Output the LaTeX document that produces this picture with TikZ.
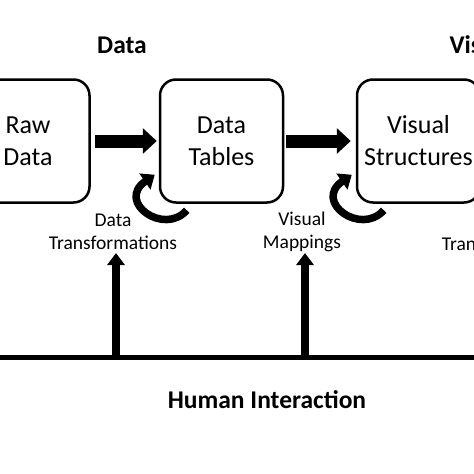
\documentclass[tikz,border=0pt]{standalone}
\usepackage{fontspec}
\setmainfont{Carlito}
\usetikzlibrary{arrows.meta}

\begin{document}
\begin{tikzpicture}[x=1pt, y=-1pt, line join=round,
  stage/.style={draw, line width=2.5pt, rounded corners=16pt, minimum width=123pt, minimum height=123pt, align=center, font=\fontsize{26}{32}\selectfont},
  flow/.style={line width=13pt, -{Triangle[length=14pt,width=25pt]}},
  curl/.style={line width=7.5pt, -{Triangle[length=12pt,width=19pt]}},
  lift/.style={line width=8pt, -{Triangle[length=12pt,width=17pt]}},
  lbl/.style={align=center, font=\fontsize{19.5}{23.5}\selectfont},
  head/.style={font=\bfseries\fontsize{25.5}{30}\selectfont}]
  \clip (0,0) rectangle (474,474);
  \useasboundingbox (0,0) rectangle (474,474);
  % stages of the pipeline
  \node[stage] (raw) at (28,141) {Raw\\Data};
  \node[stage] (tables) at (221.5,141) {Data\\Tables};
  \node[stage] (vis) at (418.5,141) {Visual\\Structures};
  \draw[flow, shorten <=4pt, shorten >=2pt] (raw.east) -- (tables.west);
  \draw[flow, shorten <=2pt, shorten >=5pt] (tables.east) -- (vis.west);
  \foreach \n in {tables,vis}
    \draw[curl] ([shift={(28,6.5)}]\n.south west) .. controls +(-23,26) and +(-39,27) .. ([shift={(-4,-29)}]\n.south west);
  % transformations
  \node[lbl] (dtrans) at (113,232) {Data\\Transformations};
  \node[lbl] (vmap) at (302,232) {Visual\\Mappings};
  \node[lbl] (vtrans) at (506,232) {View\\Transformations};
  % human interaction
  \coordinate (left) at (0,357);
  \coordinate (right) at (474,357);
  \coordinate (dtfoot) at (116,357);
  \coordinate (vmfoot) at (305,357);
  \draw[line width=5pt] (left) -- (right);
  \draw[lift] (dtfoot) -- ++(0,-104);
  \draw[lift] (vmfoot) -- ++(0,-104);
  \node[head] (datahead) at (122,45) {Data};
  \node[head, anchor=west] (vishead) at (446,45) {Visual Form};
  \node[head] (human) at (267,400) {Human Interaction};
\end{tikzpicture}
\end{document}
